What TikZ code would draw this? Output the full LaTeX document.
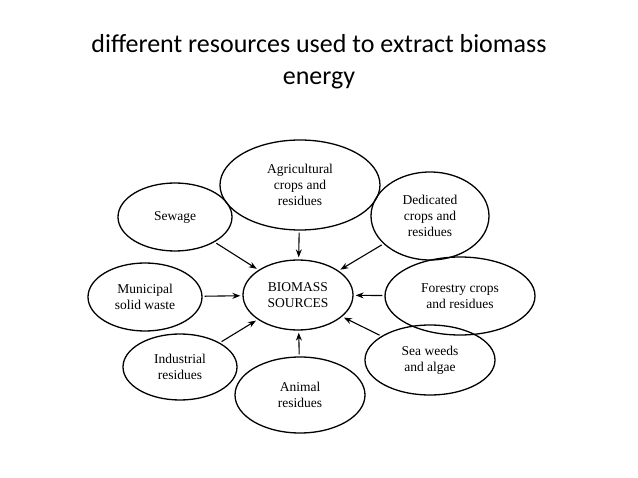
\documentclass[tikz,border=0pt]{standalone}
\usepackage{fontspec}
\setmainfont{Liberation Serif}
\newfontfamily\titlefont{Carlito}
\usetikzlibrary{shapes.geometric,arrows.meta}
\begin{document}
\begin{tikzpicture}[x=1pt,y=-1pt,
  src/.style={draw,ellipse,line width=1.3pt,inner sep=0pt,align=center,font=\fontsize{13.5}{16}\selectfont},
  arr/.style={-{Stealth[length=8pt,width=6pt]},line width=1.1pt,shorten <=2pt,shorten >=2pt}]
\useasboundingbox[fill=white] (0,0) rectangle (638,478);
\node[font=\titlefont\fontsize{26}{32}\selectfont,align=center] (title) at (319,62) {different resources used to extract biomass\\energy};
\node[src,minimum width=110,minimum height=70] (c) at (298,295) {BIOMASS\\SOURCES};
\node[src,minimum width=160,minimum height=90] (agr) at (300,185) {Agricultural\\crops and\\residues};
\node[src,minimum width=114,minimum height=68] (sew) at (175,217) {Sewage};
\node[src,minimum width=118,minimum height=88] (ded) at (430,216) {Dedicated\\crops and\\residues};
\node[src,minimum width=114,minimum height=68] (mun) at (145,297) {Municipal\\solid waste};
\node[src,minimum width=150,minimum height=78] (for) at (460,296) {Forestry crops\\and residues};
\node[src,minimum width=114,minimum height=66] (ind) at (180,367) {Industrial\\residues};
\node[src,minimum width=130,minimum height=76] (ani) at (300,395) {Animal\\residues};
\node[src,minimum width=130,minimum height=70] (sea) at (430,360) {Sea weeds\\and algae};
\foreach \n in {agr,sew,ded,mun,for,ind,ani,sea} \draw[arr] (\n) -- (c);
\end{tikzpicture}
\end{document}
